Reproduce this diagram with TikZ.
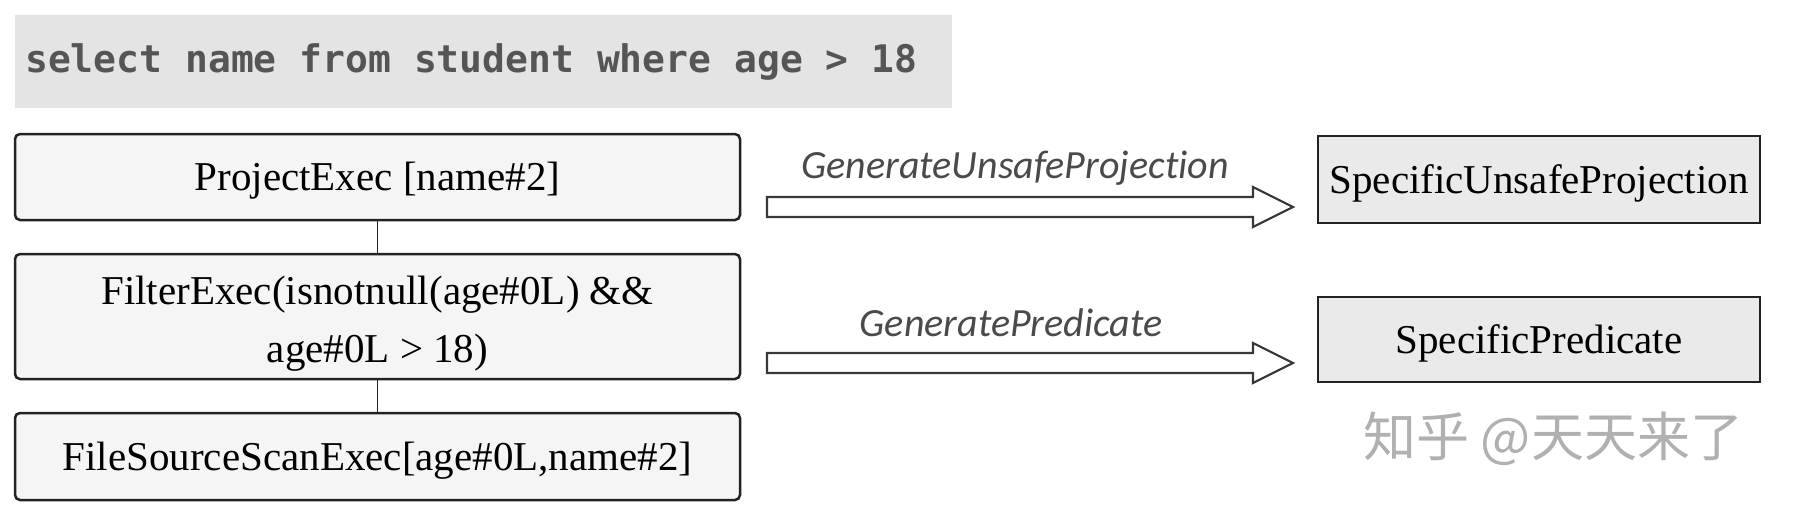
\documentclass[tikz,border=0pt]{standalone}
\usepackage{fontspec}
\usetikzlibrary{calc}
\setmainfont[Ligatures=CommonOff]{Liberation Serif}
\newfontfamily\codefont{DejaVu Sans Mono}
\newfontfamily\labelfont[Ligatures=CommonOff]{Carlito}
\newfontfamily\cjkfont{Noto Sans CJK SC}
\definecolor{bandgrey}{HTML}{E4E4E4}
\definecolor{codegrey}{HTML}{555555}
\definecolor{boxline}{HTML}{222222}
\definecolor{leftfill}{HTML}{F5F5F5}
\definecolor{rightfill}{HTML}{EAEAEA}
\definecolor{labelgrey}{HTML}{4A4A4A}
\definecolor{wmgrey}{HTML}{B0B0B0}
\tikzset{
  band/.style={fill=bandgrey, draw=none, inner sep=0pt, anchor=north west},
  codetext/.style={font=\codefont\bfseries\fontsize{38}{38}\selectfont, text=codegrey, inner sep=0pt, anchor=base west},
  planbox/.style={draw=boxline, line width=2.5pt, rounded corners=5pt, fill=leftfill,
    minimum width=725pt, inner sep=0pt, font=\fontsize{41}{58}\selectfont,
    text height=27pt, text depth=0pt},
  specbox/.style={draw=boxline, line width=2.5pt, fill=rightfill,
    minimum width=442pt, inner sep=0pt, font=\fontsize{41}{58}\selectfont,
    text height=27pt, text depth=0pt},
  boxtext/.style={inner sep=0pt, anchor=base, font=\fontsize{41}{58}\selectfont},
  conn/.style={draw=boxline, line width=1.8pt},
  blockarrow/.style={draw=boxline!90, line width=2.2pt, fill=white, line join=miter},
  genlabel/.style={font=\labelfont\itshape\fontsize{40}{40}\selectfont, text=labelgrey, inner sep=0pt, anchor=base},
  watermark/.style={font=\cjkfont\fontsize{53}{53}\selectfont, text=wmgrey, inner sep=0pt}
}
\begin{document}
\begin{tikzpicture}[x=1pt,y=-1pt]
\useasboundingbox (0,0) rectangle (1794,512);
\fill[white] (0,0) rectangle (1794,512);

% SQL band
\node[band, minimum width=937pt, minimum height=93pt] (code) at (15,15) {};
\node[codetext] (sql) at (25,72) {select name from student where age > 18};

% physical plan boxes
\node[planbox, minimum height=86pt] (proj) at (377.5,177) {ProjectExec [name\#2]};
\node[planbox, minimum height=125pt] (filt) at (377.5,316.5) {};
\node[boxtext] (filt1) at ([yshift=12.5pt]filt.center) {FilterExec(isnotnull(age\#0L) \&\&};
\node[boxtext] (filt2) at ([yshift=-45.5pt]filt.center) {age\#0L > 18)};
\node[planbox, minimum height=87pt] (scan) at (377.5,456.5) {FileSourceScanExec[age\#0L,name\#2]};

\draw[conn] (proj.south) -- (filt.north);
\draw[conn] (filt.south) -- (scan.north);

% generated classes
\node[specbox, minimum height=87pt] (rproj) at (1539,179.5) {SpecificUnsafeProjection};
\node[specbox, minimum height=85pt] (rpred) at (1539,339.5) {SpecificPredicate};

% block arrows
\coordinate (a1s) at (767,207);
\coordinate (a1e) at (1293,207);
\coordinate (a2s) at (767,363);
\coordinate (a2e) at (1293,363);
\foreach \s/\e in {a1s/a1e, a2s/a2e}{
  \draw[blockarrow] let \p1=(\s), \p2=(\e) in
    (\x1,\y1+10pt) -- (\x2-40pt,\y1+10pt) -- (\x2-40pt,\y1+20pt) -- (\x2,\y2)
    -- (\x2-40pt,\y1-20pt) -- (\x2-40pt,\y1-10pt) -- (\x1,\y1-10pt) -- cycle;
}
\node[genlabel] (g1) at (1015,178) {GenerateUnsafeProjec\kern0pt tion};
\node[genlabel] (g2) at (1011,336) {GeneratePredicate};

% watermark
\node[watermark] (wm) at (1553,439) {知乎 @天天来了};
\end{tikzpicture}
\end{document}
